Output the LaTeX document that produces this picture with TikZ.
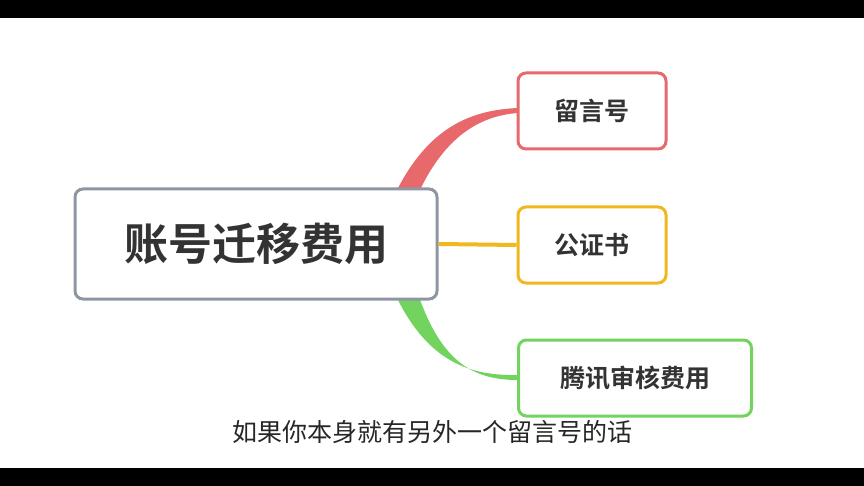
\documentclass[tikz,border=0pt]{standalone}
\usepackage{fontspec}
\newfontfamily\cjk{Noto Sans CJK SC Bold}
\newfontfamily\cjkr{Noto Sans CJK SC}
\usetikzlibrary{positioning}
\definecolor{boxgray}{HTML}{8E96A4}
\definecolor{mapred}{HTML}{E8696B}
\definecolor{mapyellow}{HTML}{F0B81E}
\definecolor{mapgreen}{HTML}{72D45E}
\tikzset{
  leaf/.style={draw=#1, line width=3pt, rounded corners=8pt, fill=white,
    font=\cjk\fontsize{25}{30}\selectfont, text=black!80, minimum height=76pt, inner sep=0pt},
  branch/.style={line width=#1}
}
\begin{document}
\begin{tikzpicture}[x=1pt,y=-1pt]
\useasboundingbox (0,0) rectangle (864,486);
\fill[black] (0,0) rectangle (864,18);
\fill[black] (0,468) rectangle (864,486);
% branches
\fill[mapred] (396,192) .. controls (428,128) and (470,110) .. (518,108)
  -- (518,113) .. controls (475,116) and (442,142) .. (418,194) -- cycle;
\fill[mapgreen] (396,296) .. controls (428,362) and (470,376) .. (518,375)
  -- (518,380) .. controls (475,380) and (442,364) .. (418,294) -- cycle;
% nodes
\node[draw=boxgray, line width=3pt, rounded corners=8pt, fill=white,
  minimum width=362pt, minimum height=110pt, font=\cjk\fontsize{44}{50}\selectfont,
  text=black!80] (root) at (256,244) {账号迁移费用};
\node[leaf=mapred, minimum width=148pt] (n1) at (592,111) {留言号};
\node[leaf=mapyellow, minimum width=148pt] (n2) at (592,245) {公证书};
\node[leaf=mapgreen, minimum width=233pt] (n3) at (635,378) {腾讯审核费用};
\draw[mapyellow, branch=4pt] (root.east) -- (n2.west);
% subtitle
\node[font=\cjkr\fontsize{25}{30}\selectfont, text=black!85] (sub) at (432,432) {如果你本身就有另外一个留言号的话};
\end{tikzpicture}
\end{document}
